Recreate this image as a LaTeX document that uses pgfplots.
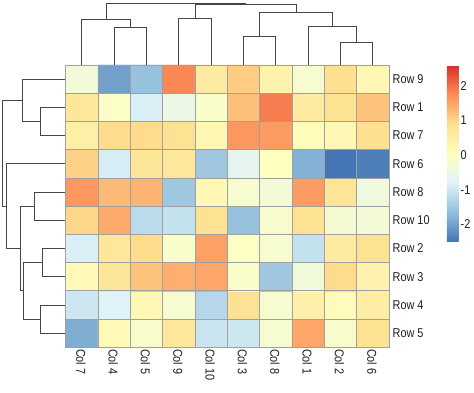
\documentclass[border=0pt]{standalone}
\usepackage{fontspec}
\setmainfont{Liberation Sans}
\newfontfamily\labfont[FakeStretch=0.85]{Liberation Sans}
\usepackage{pgfplots}
\pgfplotsset{compat=1.18}
\definecolor{gridc}{RGB}{160,160,160}
\definecolor{dendc}{RGB}{70,70,70}
\definecolor{labc}{RGB}{30,30,30}
\newcommand{\lab}{\labfont\fontsize{12.8bp}{14bp}\selectfont\color{labc}}
\begin{document}
\begin{tikzpicture}
\useasboundingbox (-65.7bp,-45.7bp) rectangle (408.3bp,347.3bp);
\begin{axis}[
  at={(0,0)}, anchor=south west,
  scale only axis, width=323.3bp, height=282.3bp,
  xmin=0.5, xmax=10.5, ymin=0.5, ymax=10.5, enlargelimits=false,
  clip=false, axis on top,
  colormap={rdylbu}{rgb255=(69,117,180) rgb255=(145,191,219) rgb255=(224,243,248) rgb255=(255,255,191) rgb255=(254,224,144) rgb255=(252,141,89) rgb255=(215,48,39)},
  point meta min=-2.5, point meta max=2.6,
  xtick={1,...,10},
  xticklabels={Col 7,Col 4,Col 5,Col 9,Col 10,Col 3,Col 8,Col 1,Col 2,Col 6},
  ytick={1,...,10},
  yticklabels={Row 5,Row 4,Row 3,Row 2,Row 10,Row 8,Row 6,Row 7,Row 1,Row 9},
  yticklabel pos=right,
  minor xtick={0.5,1.5,...,10.5}, minor ytick={0.5,1.5,...,10.5},
  xminorgrids, yminorgrids,
  minor grid style={draw=gridc, line width=0.8bp},
  major tick length=0pt, minor tick length=0pt,
  axis line style={draw=gridc, line width=0.8bp},
  xticklabel style={rotate=-90, anchor=west, font=\lab, inner sep=1.5bp, yshift=-1bp},
  yticklabel style={anchor=west, font=\lab, inner sep=2bp, xshift=1.5bp},
  dend/.style={draw=dendc, line width=0.9bp, mark=none},
  colorbar,
  colorbar style={
    at={(parent axis.north east)}, anchor=north west, xshift=49.3bp,
    scale only axis, width=11.7bp, height=176.7bp,
    ytick={-2,-1,0,1,2}, yticklabels={-2,-1,0,1,2},
    major tick length=0pt, axis line style={draw=none},
    yticklabel style={font=\lab, anchor=west, inner sep=1bp, xshift=1bp},
  },
]
\addplot[matrix plot*, mesh/cols=10, point meta=explicit] table[meta=v] {
x y v
1 1 -1.85
2 1 0.2
3 1 -0.15
4 1 0.7
5 1 -1.05
6 1 -1.0
7 1 -0.2
8 1 1.5
9 1 -0.15
10 1 0.85
1 2 -1.0
2 2 -0.8
3 2 0.25
4 2 -0.2
5 2 -1.25
6 2 0.85
7 2 -0.2
8 2 0.45
9 2 0.15
10 2 0.55
1 3 0.2
2 3 0.75
3 3 1.2
4 3 1.4
5 3 1.5
6 3 -0.1
7 3 -1.5
8 3 -0.35
9 3 0.95
10 3 0.4
1 4 -0.85
2 4 0.7
3 4 0.95
4 4 -0.1
5 4 1.55
6 4 0.0
7 4 -0.2
8 4 -1.1
9 4 0.6
10 4 0.85
1 5 1.0
2 5 1.45
3 5 -1.2
4 5 -1.1
5 5 0.85
6 5 -1.6
7 5 -0.15
8 5 0.85
9 5 -0.25
10 5 -0.3
1 6 1.65
2 6 1.3
3 6 1.35
4 6 -1.5
5 6 0.25
6 6 -0.2
7 6 -0.3
8 6 1.6
9 6 0.8
10 6 -0.4
1 7 1.05
2 7 -0.9
3 7 0.75
4 7 0.7
5 7 -1.5
6 7 -0.65
7 7 0.05
8 7 -1.8
9 7 -2.5
10 7 -2.4
1 8 0.5
2 8 0.95
3 8 0.95
4 8 0.85
5 8 0.3
6 8 1.65
7 8 1.6
8 8 0.1
9 8 0.25
10 8 0.9
1 9 0.7
2 9 -0.05
3 9 -0.85
4 9 -0.5
5 9 -0.1
6 9 1.25
7 9 1.9
8 9 0.6
9 9 0.85
10 9 1.2
1 10 -0.3
2 10 -2.0
3 10 -1.6
4 10 1.8
5 10 0.6
6 10 1.1
7 10 0.4
8 10 -0.2
9 10 0.9
10 10 0.25
};
% top dendrogram
\addplot[dend] coordinates {(2,10.5)(2,11.821)(3,11.821)(3,10.5)};
\addplot[dend] coordinates {(1,10.5)(1,12.105)(2.5,12.105)(2.5,11.821)};
\addplot[dend] coordinates {(4,10.5)(4,12.165)(5,12.165)(5,10.5)};
\addplot[dend] coordinates {(6,10.5)(6,11.517)(7,11.517)(7,10.5)};
\addplot[dend] coordinates {(9,10.5)(9,11.315)(10,11.315)(10,10.5)};
\addplot[dend] coordinates {(8,10.5)(8,11.882)(9.5,11.882)(9.5,11.315)};
\addplot[dend] coordinates {(6.5,11.517)(6.5,12.353)(8.75,12.353)(8.75,11.882)};
\addplot[dend] coordinates {(4.5,12.165)(4.5,12.636)(7.625,12.636)(7.625,12.353)};
\addplot[dend] coordinates {(1.75,12.105)(1.75,12.696)(6.0625,12.696)(6.0625,12.636)};
% left dendrogram
\addplot[dend] coordinates {(0.5,9)(-0.273,9)(-0.273,8)(0.5,8)};
\addplot[dend] coordinates {(0.5,10)(-0.830,10)(-0.830,8.5)(-0.273,8.5)};
\addplot[dend] coordinates {(0.5,6)(-0.471,6)(-0.471,5)(0.5,5)};
\addplot[dend] coordinates {(0.5,4)(-0.224,4)(-0.224,3)(0.5,3)};
\addplot[dend] coordinates {(0.5,2)(-0.273,2)(-0.273,1)(0.5,1)};
\addplot[dend] coordinates {(-0.224,3.5)(-0.811,3.5)(-0.811,1.5)(-0.273,1.5)};
\addplot[dend] coordinates {(-0.471,5.5)(-0.914,5.5)(-0.914,2.5)(-0.811,2.5)};
\addplot[dend] coordinates {(0.5,7)(-1.325,7)(-1.325,4)(-0.914,4)};
\addplot[dend] coordinates {(-0.830,9.25)(-1.449,9.25)(-1.449,5.5)(-1.325,5.5)};
\end{axis}
\end{tikzpicture}
\end{document}
